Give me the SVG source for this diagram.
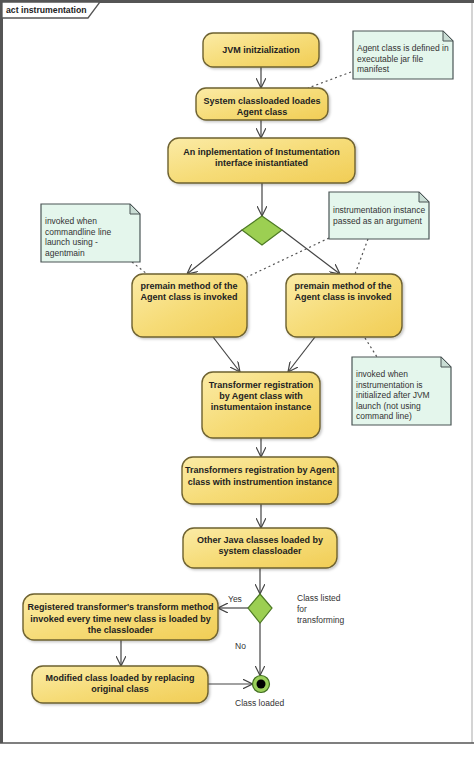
<svg xmlns="http://www.w3.org/2000/svg" width="474" height="758" viewBox="0 0 474 758">
<defs>
<linearGradient id="ng" x1="0" y1="0" x2="1" y2="1">
<stop offset="0" stop-color="#fbeba6"/>
<stop offset="0.5" stop-color="#f6dc78"/>
<stop offset="1" stop-color="#f1cd55"/>
</linearGradient>
<filter id="sh" x="-10%" y="-10%" width="130%" height="130%">
<feDropShadow dx="1.5" dy="1.5" stdDeviation="1" flood-color="#000" flood-opacity="0.22"/>
</filter>
<marker id="arr" viewBox="0 0 10 10" refX="10" refY="5" markerWidth="10" markerHeight="10" markerUnits="userSpaceOnUse" orient="auto">
<path d="M0,0 L10,5 L0,10" fill="none" stroke="#444" stroke-width="1.2"/>
</marker>
<style>
.node rect{fill:url(#ng);stroke:#6e6230;stroke-width:1.4;filter:url(#sh)}
.nt{font-family:"Liberation Sans",Arial,sans-serif;font-size:9px;font-weight:bold;fill:#222;text-anchor:middle}
.note path.b{fill:#e4f6ec;stroke:#4a5555;stroke-width:1.2}
.note path.f{fill:#c9ddd4;stroke:#4a5555;stroke-width:1}
.tt{font-family:"Liberation Sans",Arial,sans-serif;font-size:8.5px;fill:#333}
.dec polygon{fill:#9ccf52;stroke:#4d7a24;stroke-width:1.2}
.edge{fill:none;stroke:#444;stroke-width:1.2;marker-end:url(#arr)}
.dot{fill:none;stroke:#555;stroke-width:1.2;stroke-dasharray:2,3}
</style>
</defs>
<rect x="0" y="0" width="474" height="758" fill="#fff"/>
<g id="frame">
<line x1="472" y1="0" x2="472" y2="743" stroke="#d4d4d4" stroke-width="2"/>
<line x1="0" y1="1.5" x2="474" y2="1.5" stroke="#555" stroke-width="3"/>
<line x1="1.5" y1="0" x2="1.5" y2="743" stroke="#555" stroke-width="3"/>
<line x1="0" y1="743" x2="474" y2="743" stroke="#555" stroke-width="1.5"/>
<polygon points="2,2 100,2 88,18 2,18" fill="#fff" stroke="#555" stroke-width="1.3"/>
<text x="6" y="13" font-family="Liberation Sans,Arial,sans-serif" font-size="8.7" font-weight="bold" fill="#222">act instrumentation</text>
</g>
<g id="connectors">
<path class="edge" d="M261,67 V88"/>
<path class="edge" d="M261,120 V138"/>
<path class="edge" d="M262,183 V216"/>
<path class="edge" d="M242,230 L187,274"/>
<path class="edge" d="M282,230 L340,274"/>
<path class="edge" d="M213,337 L240,372"/>
<path class="edge" d="M315,337 L288,372"/>
<path class="edge" d="M261,438 V457"/>
<path class="edge" d="M261,504 V528"/>
<path class="edge" d="M260,568 V594"/>
<path class="edge" d="M248,608 H218"/>
<path class="edge" d="M260,623 V675.5"/>
<path class="edge" d="M121,640 V666"/>
<path class="edge" d="M208,684 H252.5"/>
<path class="dot" d="M351,72 L308,88"/>
<path class="dot" d="M132,262 L147,274"/>
<path class="dot" d="M329,238 L247,277"/>
<path class="dot" d="M368,239 L355,274"/>
<path class="dot" d="M365,338 L377,357"/>
<text class="tt" x="228" y="602">Yes</text>
<text class="tt" x="235" y="649">No</text>
</g>
<g id="n1" class="node"><rect x="203" y="33" width="116" height="34" rx="10"/><text class="nt" x="261" y="53">JVM initzialization</text></g>
<g id="n2" class="node"><rect x="196" y="88" width="132" height="32" rx="10"/><text class="nt" x="262" y="104">System classloaded loades</text><text class="nt" x="262" y="115">Agent class</text></g>
<g id="n3" class="node"><rect x="168" y="138" width="187" height="45" rx="11"/><text class="nt" x="261.5" y="155">An inplementation of Instumentation</text><text class="nt" x="261.5" y="166">interface inistantiated</text></g>
<g id="d1" class="dec"><polygon points="262,216 282,230 262,245 242,230"/></g>
<g id="n4" class="node"><rect x="132" y="274" width="115" height="63" rx="11"/><text class="nt" x="189" y="289">premain method of the</text><text class="nt" x="189" y="300">Agent class is invoked</text></g>
<g id="n5" class="node"><rect x="286" y="274" width="116" height="63" rx="11"/><text class="nt" x="343" y="289">premain method of the</text><text class="nt" x="343" y="300">Agent class is invoked</text></g>
<g id="n6" class="node"><rect x="202" y="372" width="118" height="66" rx="11"/><text class="nt" x="261" y="388">Transformer registration</text><text class="nt" x="261" y="399">by Agent class with</text><text class="nt" x="261" y="410">instumentaion instance</text></g>
<g id="n7" class="node"><rect x="182" y="457" width="156" height="47" rx="11"/><text class="nt" x="260" y="473">Transformers registration by Agent</text><text class="nt" x="260" y="485">class with instrumention instance</text></g>
<g id="n8" class="node"><rect x="183" y="528" width="154" height="40" rx="11"/><text class="nt" x="260" y="543">Other Java classes loaded by</text><text class="nt" x="260" y="554">system classloader</text></g>
<g id="d2" class="dec"><polygon points="260,594 272,608 260,623 248,608"/></g>
<g id="n9" class="node"><rect x="23" y="594" width="195" height="46" rx="11"/><text class="nt" x="120.5" y="610">Registered transformer's transform method</text><text class="nt" x="120.5" y="621.5">invoked every time new class is loaded by</text><text class="nt" x="120.5" y="633">the classloader</text></g>
<g id="n10" class="node"><rect x="32" y="666" width="176" height="37" rx="11"/><text class="nt" x="120" y="681">Modified class loaded by replacing</text><text class="nt" x="120" y="692">original class</text></g>
<g id="final"><circle cx="261" cy="684" r="8.5" fill="#9bd05a" stroke="#3f6d1e" stroke-width="1.2"/><circle cx="261" cy="684" r="4.5" fill="#000"/><text class="tt" x="235" y="706">Class loaded</text></g>
<g id="lbl"><text class="tt" x="297" y="601">Class listed</text><text class="tt" x="297" y="612">for</text><text class="tt" x="297" y="623">transforming</text></g>
<g id="noteA" class="note"><path class="b" d="M353,31 H443 L453,41 V79 H353 Z"/><path class="f" d="M443,31 V41 H453 Z"/><text class="tt" x="357" y="51">Agent class is defined in</text><text class="tt" x="357" y="62">executable jar file</text><text class="tt" x="357" y="72">manifest</text></g>
<g id="noteB" class="note"><path class="b" d="M41,204 H130 L140,214 V262 H41 Z"/><path class="f" d="M130,204 V214 H140 Z"/><text class="tt" x="45" y="224">invoked when</text><text class="tt" x="45" y="234.5">commandline line</text><text class="tt" x="45" y="245">launch using -</text><text class="tt" x="45" y="255.5">agentmain</text></g>
<g id="noteC" class="note"><path class="b" d="M329,192 H419 L429,202 V239 H329 Z"/><path class="f" d="M419,192 V202 H429 Z"/><text class="tt" x="333" y="213">instrumentation instance</text><text class="tt" x="333" y="223.5">passed as an argument</text></g>
<g id="noteD" class="note"><path class="b" d="M352,357 H441 L451,367 V425 H352 Z"/><path class="f" d="M441,357 V367 H451 Z"/><text class="tt" x="356" y="377">invoked when</text><text class="tt" x="356" y="387.5">instrumentation is</text><text class="tt" x="356" y="398">initialized after JVM</text><text class="tt" x="356" y="408.5">launch (not using</text><text class="tt" x="356" y="419">command line)</text></g>
</svg>
